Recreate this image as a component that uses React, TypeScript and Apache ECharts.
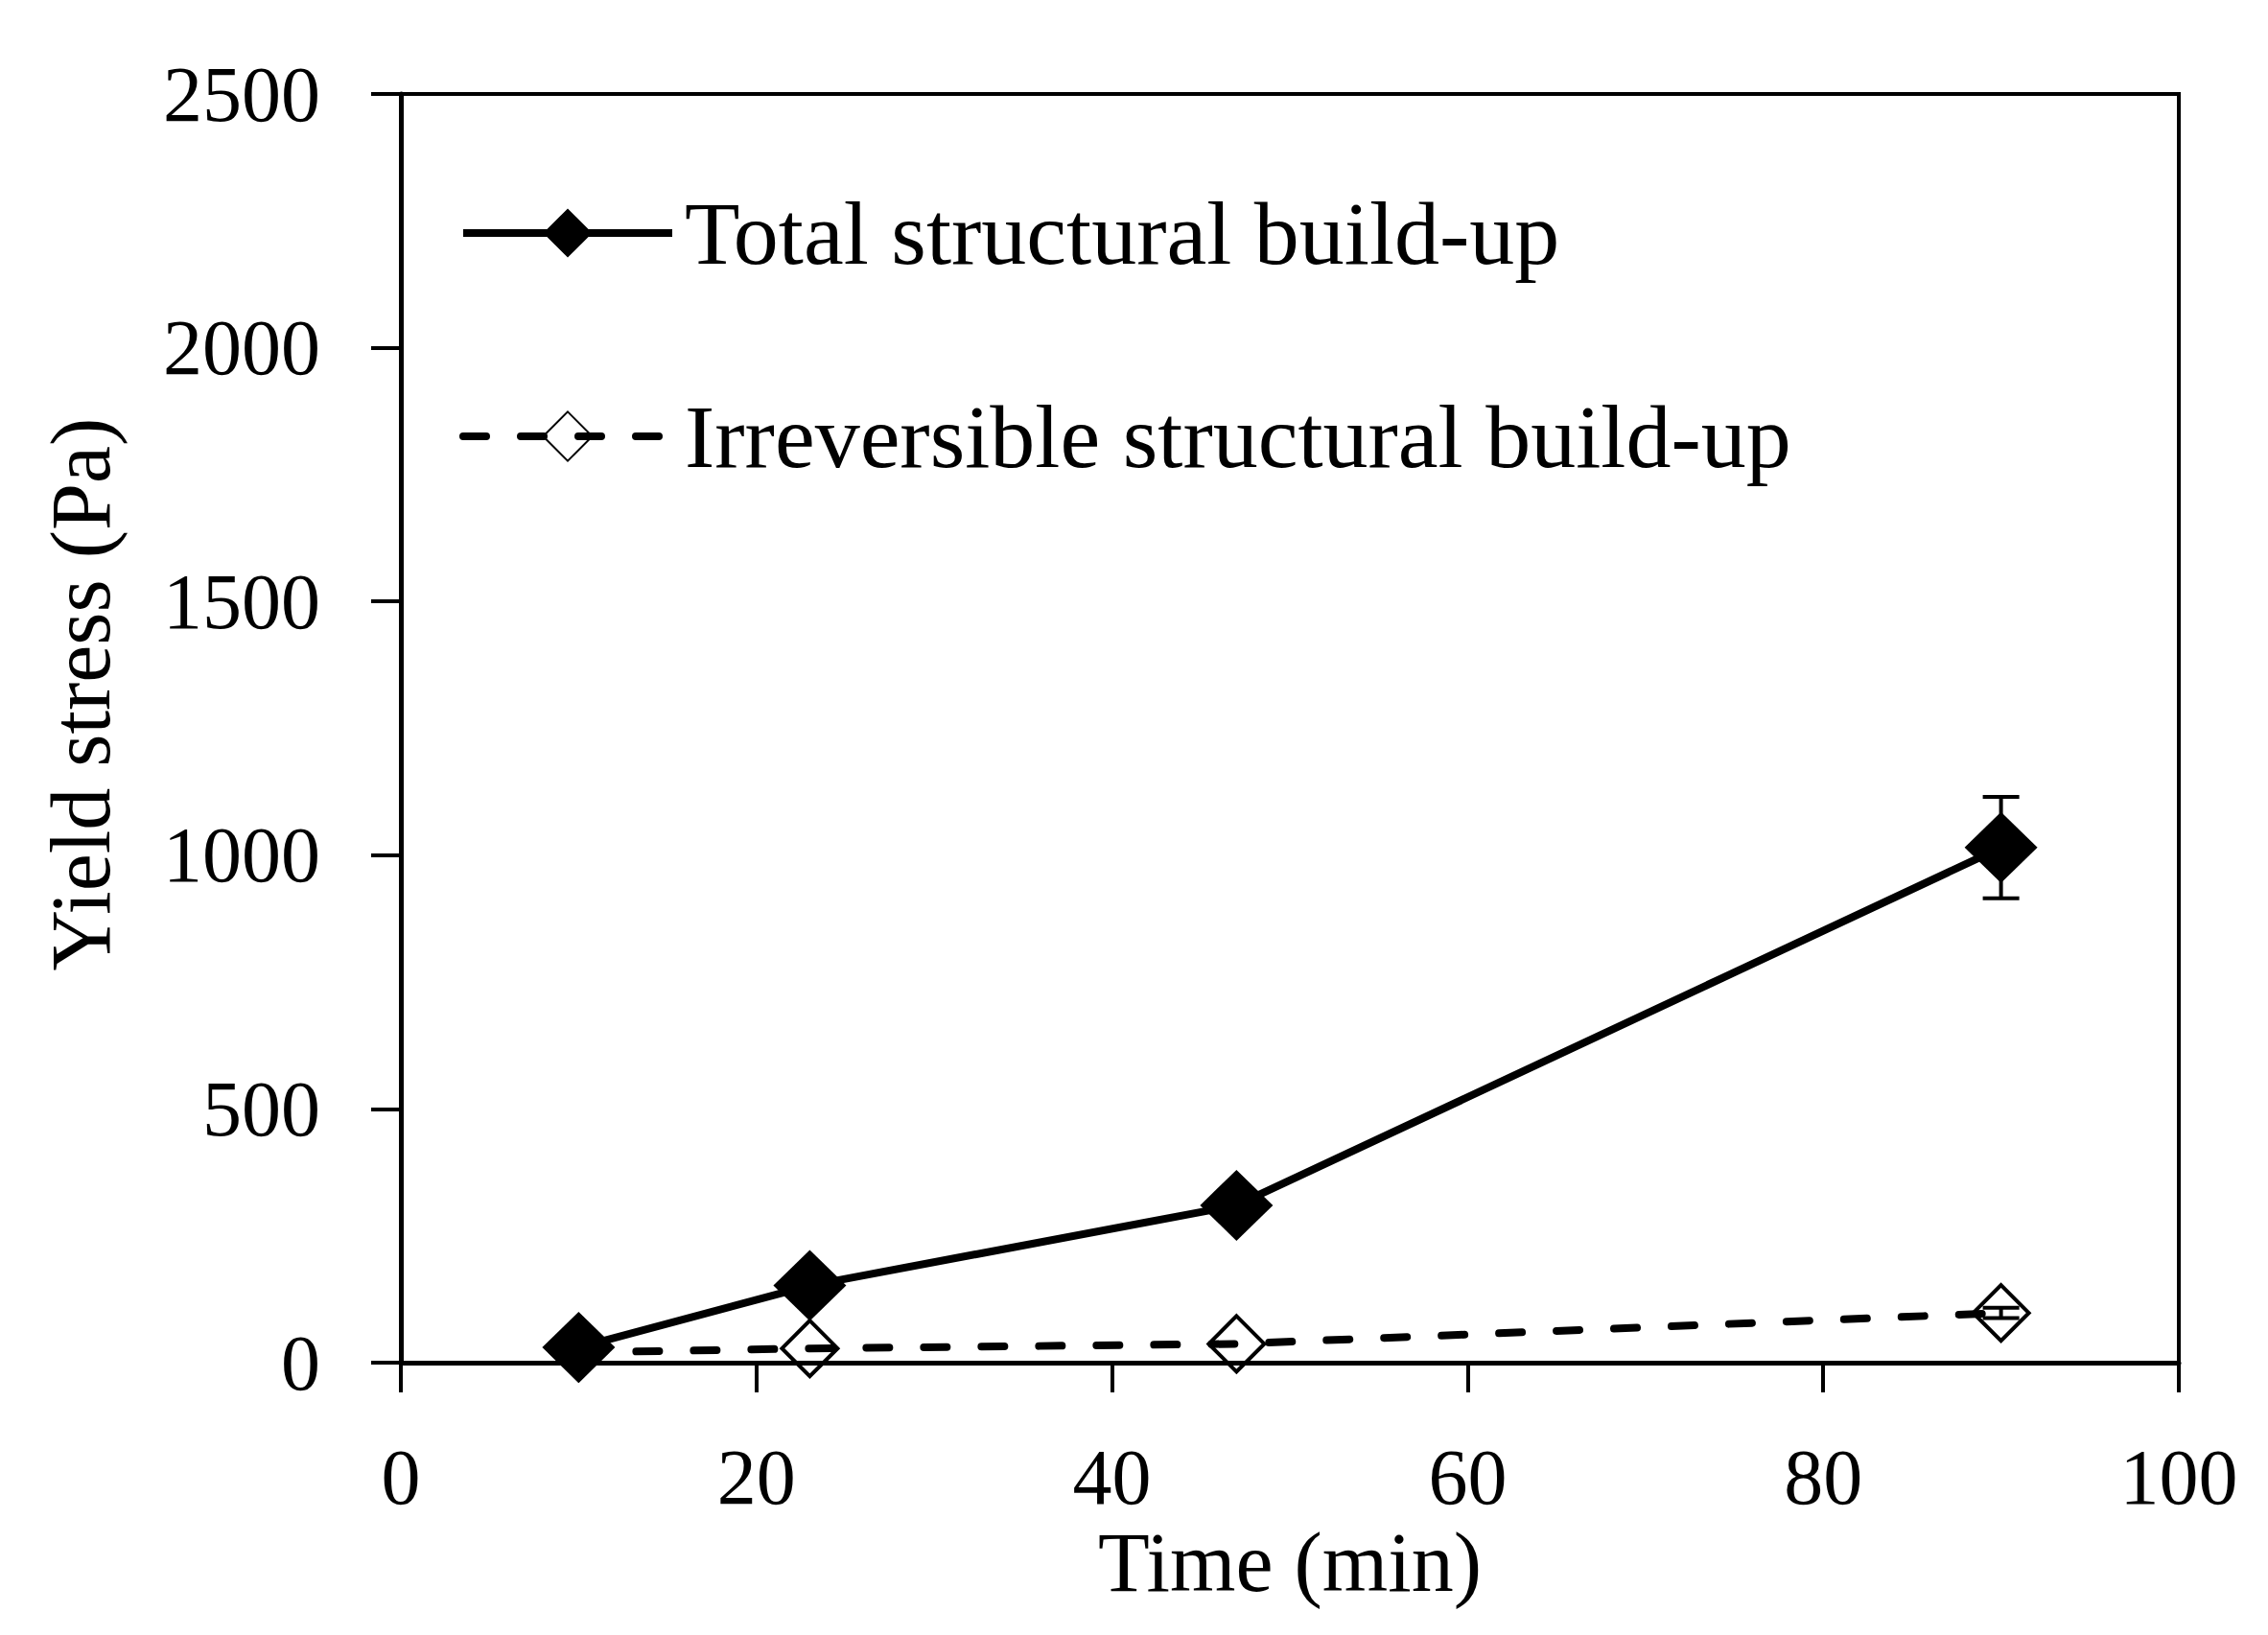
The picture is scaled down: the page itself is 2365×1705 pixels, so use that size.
import React, { useEffect, useRef } from "react";
import * as echarts from "echarts";

// ---- data ----
const timeMin = [10, 23, 47, 90];
const totalYield = [30, 152, 310, 1015];
const totalErr = [0, 0, 0, 100];
const irrYield = [20, 28, 37, 98];
const irrErr = [0, 0, 0, 10];
const seriesNames = ["Total structural build-up", "Irreversible structural build-up"];
const xTickValues = [0, 20, 40, 60, 80, 100];
const yTickValues = [0, 500, 1000, 1500, 2000, 2500];
const xTitle = "Time (min)";
const yTitle = "Yield stress (Pa)";

const FONT = "Liberation Serif";
const DASH = [24, 36];

function errorData(xs: number[], ys: number[], es: number[]) {
  const out: number[][] = [];
  for (let i = 0; i < xs.length; i++) {
    if (es[i] > 0) out.push([xs[i], ys[i] - es[i], ys[i] + es[i]]);
  }
  return out;
}

const errRender = (params: any, api: any) => {
  const x = api.value(0);
  const lo = api.coord([x, api.value(1)]);
  const hi = api.coord([x, api.value(2)]);
  const hw = 19;
  const st = { stroke: "#000", lineWidth: 4 };
  return {
    type: "group",
    children: [
      { type: "line", shape: { x1: lo[0], y1: lo[1], x2: hi[0], y2: hi[1] }, style: st },
      { type: "line", shape: { x1: lo[0] - hw, y1: lo[1], x2: lo[0] + hw, y2: lo[1] }, style: st },
      { type: "line", shape: { x1: hi[0] - hw, y1: hi[1], x2: hi[0] + hw, y2: hi[1] }, style: st },
    ],
  };
};

export default function App() {
  const ref = useRef<HTMLDivElement>(null);
  useEffect(() => {
    document.body.style.margin = "0";
    const chart = echarts.init(ref.current!, undefined, { renderer: "svg" });
    const axisCommon = {
      axisLine: { show: true, lineStyle: { color: "#000", width: 5 } },
      axisTick: { show: true, inside: false, length: 31, lineStyle: { color: "#000", width: 4 } },
      splitLine: { show: false },
      axisLabel: {
        color: "#000",
        fontFamily: FONT,
        fontSize: 82,
        margin: 84,
        formatter: (v: number) => String(v),
      },
    };
    chart.setOption({
      animation: false,
      backgroundColor: "#fff",
      grid: {
        left: 418,
        right: 93,
        top: 98,
        bottom: 284,
        show: true,
        borderColor: "#000",
        borderWidth: 4,
        backgroundColor: "transparent",
      },
      xAxis: {
        type: "value",
        min: xTickValues[0],
        max: xTickValues[xTickValues.length - 1],
        interval: xTickValues[1] - xTickValues[0],
        name: xTitle,
        nameLocation: "middle",
        nameGap: 154,
        nameTextStyle: { color: "#000", fontFamily: FONT, fontSize: 88 },
        ...axisCommon,
        axisLabel: { ...axisCommon.axisLabel, margin: 78 },
      },
      yAxis: {
        type: "value",
        min: yTickValues[0],
        max: yTickValues[yTickValues.length - 1],
        interval: yTickValues[1] - yTickValues[0],
        ...axisCommon,
      },
      graphic: [
        {
          type: "text",
          x: 84,
          y: 724,
          rotation: Math.PI / 2,
          style: {
            text: yTitle,
            fontFamily: FONT,
            fontSize: 88,
            fill: "#000",
            align: "center",
            verticalAlign: "middle",
          },
        },
      ],
      legend: {
        orient: "vertical",
        left: 474,
        top: 191,
        itemWidth: 218,
        itemHeight: 64,
        itemGap: 118,
        selectedMode: false,
        data: [
          { name: seriesNames[0], lineStyle: { width: 8, color: "#000" } },
          { name: seriesNames[1], lineStyle: { width: 8, color: "#000", type: DASH, cap: "round" } },
        ],
        textStyle: {
          color: "#000",
          fontFamily: FONT,
          fontSize: 94,
          lineHeight: 64,
          padding: [0, 0, 0, 8],
        },
      },
      series: [
        {
          name: seriesNames[1],
          type: "line",
          data: timeMin.map((t, i) => [t, irrYield[i]]),
          symbol: "diamond",
          symbolSize: 58,
          lineStyle: { color: "#000", width: 8, type: DASH, cap: "round" },
          itemStyle: { color: "rgba(255,255,255,0)", borderColor: "#000", borderWidth: 4 },
          z: 3,
        },
        {
          name: seriesNames[0],
          type: "line",
          data: timeMin.map((t, i) => [t, totalYield[i]]),
          symbol: "diamond",
          symbolSize: [76, 74],
          lineStyle: { color: "#000", width: 8 },
          itemStyle: { color: "#000", borderColor: "#000", borderWidth: 0 },
          z: 4,
        },
        {
          type: "custom",
          name: "err-total",
          data: errorData(timeMin, totalYield, totalErr),
          encode: { x: 0, y: [1, 2] },
          renderItem: errRender,
          z: 2,
        },
        {
          type: "custom",
          name: "err-irr",
          data: errorData(timeMin, irrYield, irrErr),
          encode: { x: 0, y: [1, 2] },
          renderItem: errRender,
          z: 2,
        },
      ],
    });
    return () => chart.dispose();
  }, []);
  return <div ref={ref} style={{ width: 2365, height: 1705 }} />;
}
